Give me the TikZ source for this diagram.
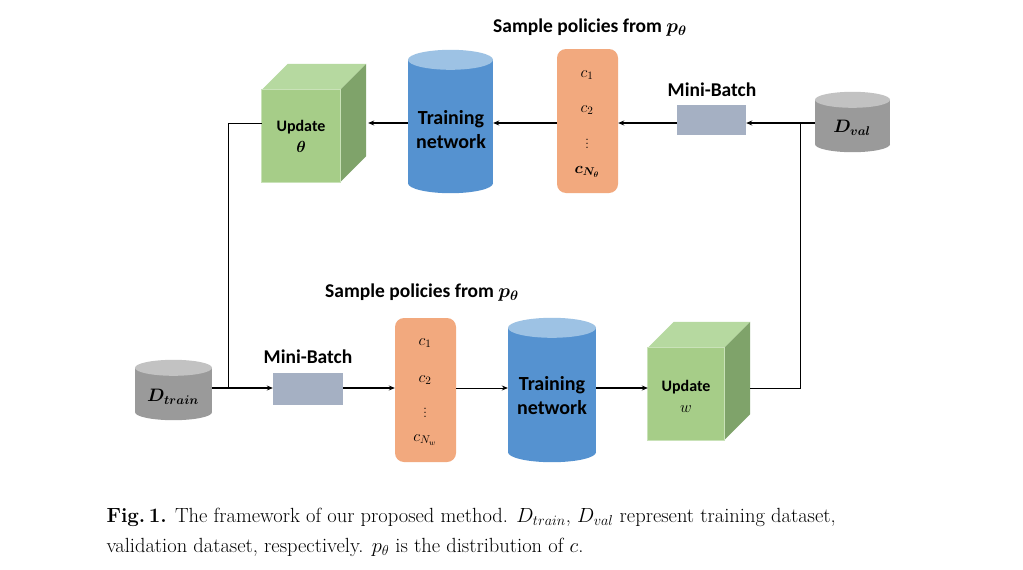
\documentclass[tikz,border=0pt]{standalone}
\usepackage{fix-cm}
\usepackage{amsmath}
\usepackage{fontspec}
\newfontfamily\calfont{Carlito}
\definecolor{gfront}{HTML}{A6CD88}
\definecolor{gtop}{HTML}{B6D9A0}
\definecolor{gside}{HTML}{7FA36A}
\definecolor{gedge}{HTML}{C9E2B8}
\definecolor{bbody}{HTML}{5592D0}
\definecolor{btop}{HTML}{9DC2E4}
\definecolor{orng}{HTML}{F2A97E}
\definecolor{mb}{HTML}{A5B0C3}
\definecolor{gbody}{HTML}{9A9A9A}
\definecolor{gtopc}{HTML}{C2C2C2}
\newcommand\mycyl[8]{% name,x,y,w,h,ry,body,top
 \node[minimum width=#4pt,minimum height=#5pt,inner sep=0pt] (#1) at (#2,#3) {};
 \fill[#7] ([yshift=-#6pt]#1.north west) rectangle ([yshift=#6pt]#1.south east);
 \fill[#7] ([yshift=#6pt]#1.south) ellipse [x radius=#4pt/2,y radius=#6pt];
 \fill[#8] ([yshift=-#6pt]#1.north) ellipse [x radius=#4pt/2,y radius=#6pt];}
\newcommand\mycube[5]{% name,x,y,w,h  depth 26
 \node[minimum width=#4pt,minimum height=#5pt,inner sep=0pt] (#1) at (#2,#3) {};
 \fill[gtop] (#1.north west) -- ++(26pt,26pt) -- ([shift={(26pt,26pt)}]#1.north east) -- (#1.north east) -- cycle;
 \fill[gside] (#1.north east) -- ++(26pt,26pt) -- ([shift={(26pt,26pt)}]#1.south east) -- (#1.south east) -- cycle;
 \fill[gfront,draw=gedge,line width=1pt] (#1.north west) rectangle (#1.south east);}
\usetikzlibrary{arrows.meta}
\tikzset{arr/.style={-{Stealth[length=6pt,width=5pt]},line width=1.4pt},
 ln/.style={line width=0.8pt},
 lab/.style={font=\calfont\bfseries\fontsize{19.5}{23}\selectfont,align=center},
 upd/.style={font=\calfont\bfseries\fontsize{16}{19}\selectfont,align=center},
 cv/.style={font=\fontsize{16}{19}\selectfont},
 tn/.style={font=\calfont\bfseries\fontsize{20}{24}\selectfont,align=center}}
\begin{document}
\begin{tikzpicture}[x=1pt,y=-1pt]
\useasboundingbox[fill=white] (0,0) rectangle (1023,570);
% top row
\mycube{ut}{301}{136}{78}{92}
\node[upd] at (ut) {Update\\[2pt] $\boldsymbol{\theta}$};
\mycyl{tnt}{450.5}{121.5}{85}{143}{10}{bbody}{btop}
\node[tn] at (451,130) {Training\\network};
\node[fill=orng,rounded corners=9pt,minimum width=61pt,minimum height=144pt,inner sep=0pt] (ot) at (587.5,121) {};
\node[cv] at (587,75) {$c_1$};
\node[cv] at (587,110) {$c_2$};
\node[cv] at (587,141) {$\vdots$};
\node[cv] at (587,172) {$\boldsymbol{c_{N_\theta}}$};
\node[fill=mb,minimum width=69pt,minimum height=30pt,inner sep=0pt] (mt) at (711.5,120) {};
\node[lab] at (712,90) {Mini-Batch};
\mycyl{dv}{852.5}{122}{75}{60}{8}{gbody}{gtopc}
\node[font=\fontsize{18}{21}\selectfont] at (852,128) {$\boldsymbol{D_{val}}$};
\node[lab] at (590,28) {Sample policies from $\boldsymbol{p_\theta}$};
\draw[arr] (dv.west |- 0,123) -- (mt.east |- 0,123);
\draw[arr] (mt.west |- 0,123) -- (ot.east |- 0,123);
\draw[arr] (ot.west |- 0,123) -- (tnt.east |- 0,123);
\draw[arr] (tnt.west |- 0,123) -- ([xshift=28pt]ut.east |- 0,123);
% bottom row
\mycyl{dt}{173.5}{390}{77}{60}{8}{gbody}{gtopc}
\node[font=\fontsize{18}{21}\selectfont] at (173,397) {$\boldsymbol{D_{train}}$};
\node[fill=mb,minimum width=70pt,minimum height=32pt,inner sep=0pt] (mw) at (308,389) {};
\node[lab] at (308,357) {Mini-Batch};
\node[fill=orng,rounded corners=9pt,minimum width=61pt,minimum height=144pt,inner sep=0pt] (ow) at (425.5,390) {};
\node[cv] at (425,343) {$c_1$};
\node[cv] at (425,380) {$c_2$};
\node[cv] at (425,410) {$\vdots$};
\node[cv] at (425,440) {$c_{N_w}$};
\mycyl{tnw}{552}{390}{88}{144}{10}{bbody}{btop}
\node[tn] at (552,396) {Training\\network};
\mycube{uw}{686}{394}{76}{92}
\node[upd] at (686,396) {Update\\[2pt] $w$};
\node[lab] at (422,293) {Sample policies from $\boldsymbol{p_\theta}$};
\coordinate (jl) at (228,388);
\coordinate (jr) at (800,388);
\draw[arr] (dt.east |- 0,388) -- (mw.west |- 0,388);
\draw[arr] (mw.east |- 0,388) -- (ow.west |- 0,388);
\draw[arr,line width=0.9pt] (ow.east |- 0,388) -- (tnw.west |- 0,388);
\draw[arr] (tnw.east |- 0,388) -- (uw.west |- 0,388);
% feedback lines
\draw[ln] (ut.west |- 0,123) -| (jl);
\draw[ln] ([xshift=26pt]uw.east |- 0,388) -| (jr) -- (jr |- 0,123);
\node[anchor=west,font=\fontsize{20.5}{30}\selectfont,align=left] at (103,532) {\textbf{Fig.\,1.} The framework of our proposed method. $D_{train}$, $D_{val}$ represent training dataset,\\validation dataset, respectively. $p_\theta$ is the distribution of $c$.};
\end{tikzpicture}
\end{document}
